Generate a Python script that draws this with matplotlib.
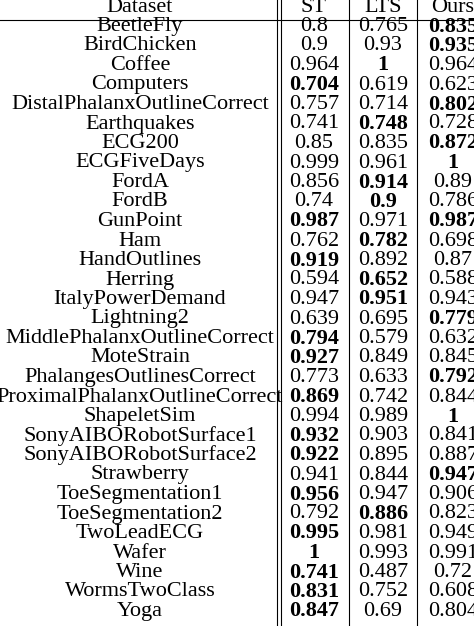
import matplotlib
matplotlib.use('Agg')
import matplotlib.pyplot as plt

datasets = ['BeetleFly', 'BirdChicken', 'Coffee', 'Computers', 'DistalPhalanxOutlineCorrect',
            'Earthquakes', 'ECG200', 'ECGFiveDays', 'FordA', 'FordB', 'GunPoint', 'Ham',
            'HandOutlines', 'Herring', 'ItalyPowerDemand', 'Lightning2',
            'MiddlePhalanxOutlineCorrect', 'MoteStrain', 'PhalangesOutlinesCorrect',
            'ProximalPhalanxOutlineCorrect', 'ShapeletSim', 'SonyAIBORobotSurface1',
            'SonyAIBORobotSurface2', 'Strawberry', 'ToeSegmentation1', 'ToeSegmentation2',
            'TwoLeadECG', 'Wafer', 'Wine', 'WormsTwoClass', 'Yoga']
st = ['0.8', '0.9', '0.964', '0.704', '0.757', '0.741', '0.85', '0.999', '0.856', '0.74',
      '0.987', '0.762', '0.919', '0.594', '0.947', '0.639', '0.794', '0.927', '0.773', '0.869',
      '0.994', '0.932', '0.922', '0.941', '0.956', '0.792', '0.995', '1', '0.741', '0.831', '0.847']
lts = ['0.765', '0.93', '1', '0.619', '0.714', '0.748', '0.835', '0.961', '0.914', '0.9',
       '0.971', '0.782', '0.892', '0.652', '0.951', '0.695', '0.579', '0.849', '0.633', '0.742',
       '0.989', '0.903', '0.895', '0.844', '0.947', '0.886', '0.981', '0.993', '0.487', '0.752', '0.69']
ours = ['0.835', '0.935', '0.964', '0.623', '0.802', '0.728', '0.872', '1', '0.89', '0.786',
        '0.987', '0.698', '0.87', '0.588', '0.943', '0.779', '0.632', '0.845', '0.792', '0.844',
        '1', '0.841', '0.887', '0.947', '0.906', '0.823', '0.949', '0.991', '0.72', '0.608', '0.804']
header = ['Dataset', 'ST', 'LTS', 'Ours']

W, H = 474, 626
fig = plt.figure(figsize=(W / 100, H / 100), dpi=100)
ax = fig.add_axes([0, 0, 1, 1])
ax.set_xlim(0, W)
ax.set_ylim(H, 0)
ax.axis('off')

font = 'Liberation Serif'
fs = 16
xs = [140, 314, 383, 453]
y0, dy = 7.0, 19.5

for x, h in zip(xs, header):
    ax.text(x, y0, h, ha='center', va='center', family=font, fontsize=fs)

for i, name in enumerate(datasets):
    y = y0 + dy * (i + 1)
    ax.text(xs[0], y, name, ha='center', va='center', family=font, fontsize=fs)
    vals = [float(st[i]), float(lts[i]), float(ours[i])]
    best = max(vals)
    for x, s, v in zip(xs[1:], [st[i], lts[i], ours[i]], vals):
        ax.text(x, y, s, ha='center', va='center', family=font, fontsize=fs,
                fontweight='bold' if v == best else 'normal')

ax.plot([0, W], [19.5, 19.5], color='black', lw=0.8)
for x in [277.5, 281.5, 349.5, 417.5]:
    ax.plot([x, x], [0, H], color='black', lw=0.8)

fig.savefig('out.png', dpi=100)
